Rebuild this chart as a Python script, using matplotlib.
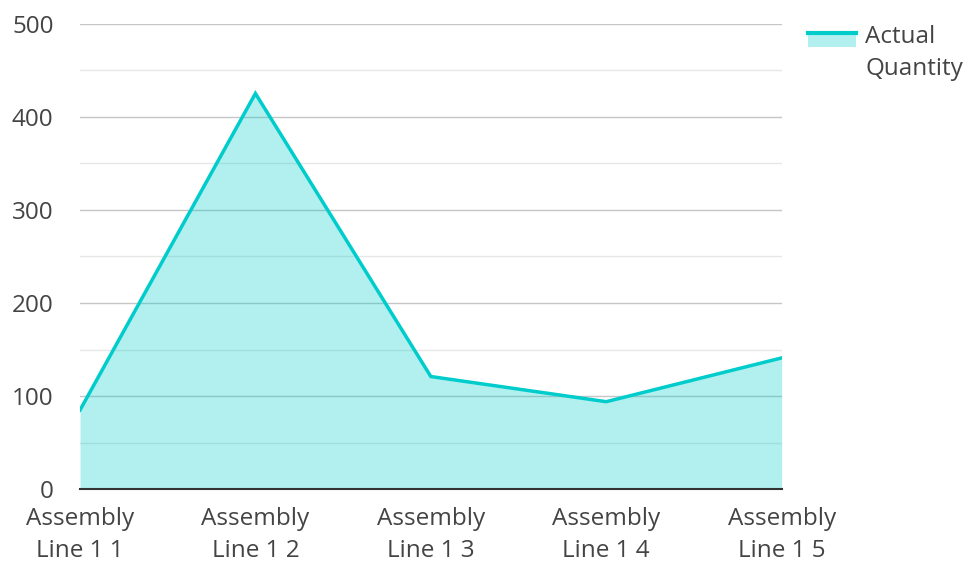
import matplotlib
matplotlib.use("Agg")
import matplotlib.pyplot as plt
from matplotlib.legend_handler import HandlerBase
from matplotlib.patches import Rectangle
from matplotlib.lines import Line2D

plt.rcParams['font.family'] = ['Open Sans', 'DejaVu Sans']

# data
lines = ["Assembly\nLine 1 1", "Assembly\nLine 1 2", "Assembly\nLine 1 3",
         "Assembly\nLine 1 4", "Assembly\nLine 1 5"]
actual_qty = [85, 425, 121, 94, 141]
yticks = [0, 100, 200, 300, 400, 500]

teal = "#00cccc"
txt = "#444444"
fs = 17.5


# legend key: line on top of a filled box, level with the first text line
class AreaHandler(HandlerBase):
    def create_artists(self, legend, orig, xd, yd, w, h, fontsize, trans):
        top = -yd + h * 0.75 + 11.5
        box = Rectangle((-xd, top - 9.5), w, 9.5, facecolor=teal,
                        alpha=0.3, edgecolor='none', transform=trans)
        ln = Line2D([-xd, -xd + w], [top, top], color=teal, lw=3, transform=trans)
        return [box, ln]


fig = plt.figure(figsize=(9.71, 5.62), dpi=100)
ax = fig.add_axes([0.0824, 0.1295, 0.7226, 0.8285])

x = list(range(len(lines)))
ax.fill_between(x, actual_qty, 0, color=teal, alpha=0.3, lw=0, zorder=2)
ax.plot(x, actual_qty, color=teal, lw=2.5, zorder=3, solid_joinstyle='miter')

ax.set_xlim(0, 4)
ax.set_ylim(0, 500)
ax.set_yticks(yticks)
ax.set_yticks([50, 150, 250, 350, 450], minor=True)
ax.grid(axis='y', which='major', color='#c6c6c6', lw=1, zorder=1)
ax.grid(axis='y', which='minor', color='#e6e6e6', lw=1, zorder=1)
ax.set_axisbelow(True)

ax.set_xticks(x)
ax.set_xticklabels(lines, linespacing=1.42)
ax.tick_params(axis='both', which='both', length=0, labelsize=fs, labelcolor=txt)
ax.tick_params(axis='y', pad=19)
ax.tick_params(axis='x', pad=13)

for s in ['top', 'right', 'left']:
    ax.spines[s].set_visible(False)
ax.spines['bottom'].set_color('#333333')
ax.spines['bottom'].set_linewidth(1.5)
ax.spines['bottom'].set_zorder(4)

key = Rectangle((0, 0), 1, 1)
leg = fig.legend([key], ["Actual\nQuantity"], handler_map={Rectangle: AreaHandler()},
                 loc='upper left', bbox_to_anchor=(0.832, 0.955), frameon=False,
                 borderpad=0, borderaxespad=0, fontsize=fs, handlelength=2.0,
                 handletextpad=0.37, labelcolor=txt)
for t in leg.get_texts():
    t.set_linespacing(1.42)

fig.savefig("out.png", dpi=100)
